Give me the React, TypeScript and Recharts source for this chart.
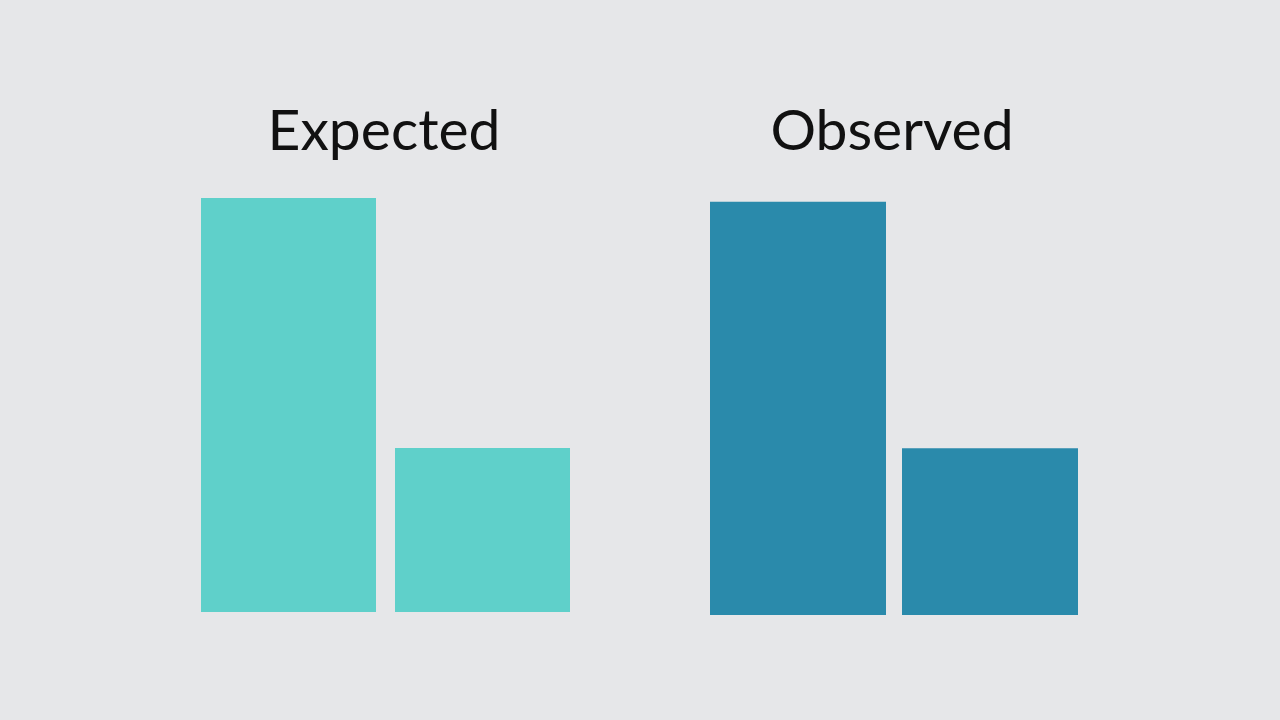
import { BarChart, Bar, XAxis, YAxis } from 'recharts'

const categories = ['A', 'B']
const expectedValues = [100, 39.6]
const observedValues = [99.8, 40.3]
const panelTitles = ['Expected', 'Observed']

const expectedData = categories.map((name, i) => ({ name, value: expectedValues[i] }))
const observedData = categories.map((name, i) => ({ name, value: observedValues[i] }))

const titleStyle = {
  position: 'absolute' as const,
  fontFamily: 'Lato, "Noto Sans", sans-serif',
  fontSize: 57,
  fontWeight: 400,
  color: '#111',
  textAlign: 'center' as const,
  lineHeight: '57px',
  width: 400,
}

const Panel = ({
  data,
  color,
  width,
  barSize,
}: {
  data: { name: string; value: number }[]
  color: string
  width: number
  barSize: number
}) => (
  <BarChart
    width={width}
    height={414}
    data={data}
    margin={{ top: 0, right: 0, bottom: 0, left: 0 }}
  >
    <XAxis dataKey="name" hide />
    <YAxis domain={[0, 100]} hide />
    <Bar dataKey="value" fill={color} barSize={barSize} isAnimationActive={false} />
  </BarChart>
)

export default function App() {
  return (
    <div
      style={{
        position: 'fixed',
        left: 0,
        top: 0,
        width: 1280,
        height: 720,
        background: '#e6e7e9',
        overflow: 'hidden',
      }}
    >
      <div style={{ ...titleStyle, left: 184, top: 100 }}>{panelTitles[0]}</div>
      <div style={{ ...titleStyle, left: 692, top: 100 }}>{panelTitles[1]}</div>
      <div style={{ position: 'absolute', left: 190.5, top: 198 }}>
        <Panel data={expectedData} color="#5fd0ca" width={388} barSize={175} />
      </div>
      <div style={{ position: 'absolute', left: 702, top: 201 }}>
        <Panel data={observedData} color="#2a8aab" width={384} barSize={176} />
      </div>
    </div>
  )
}
